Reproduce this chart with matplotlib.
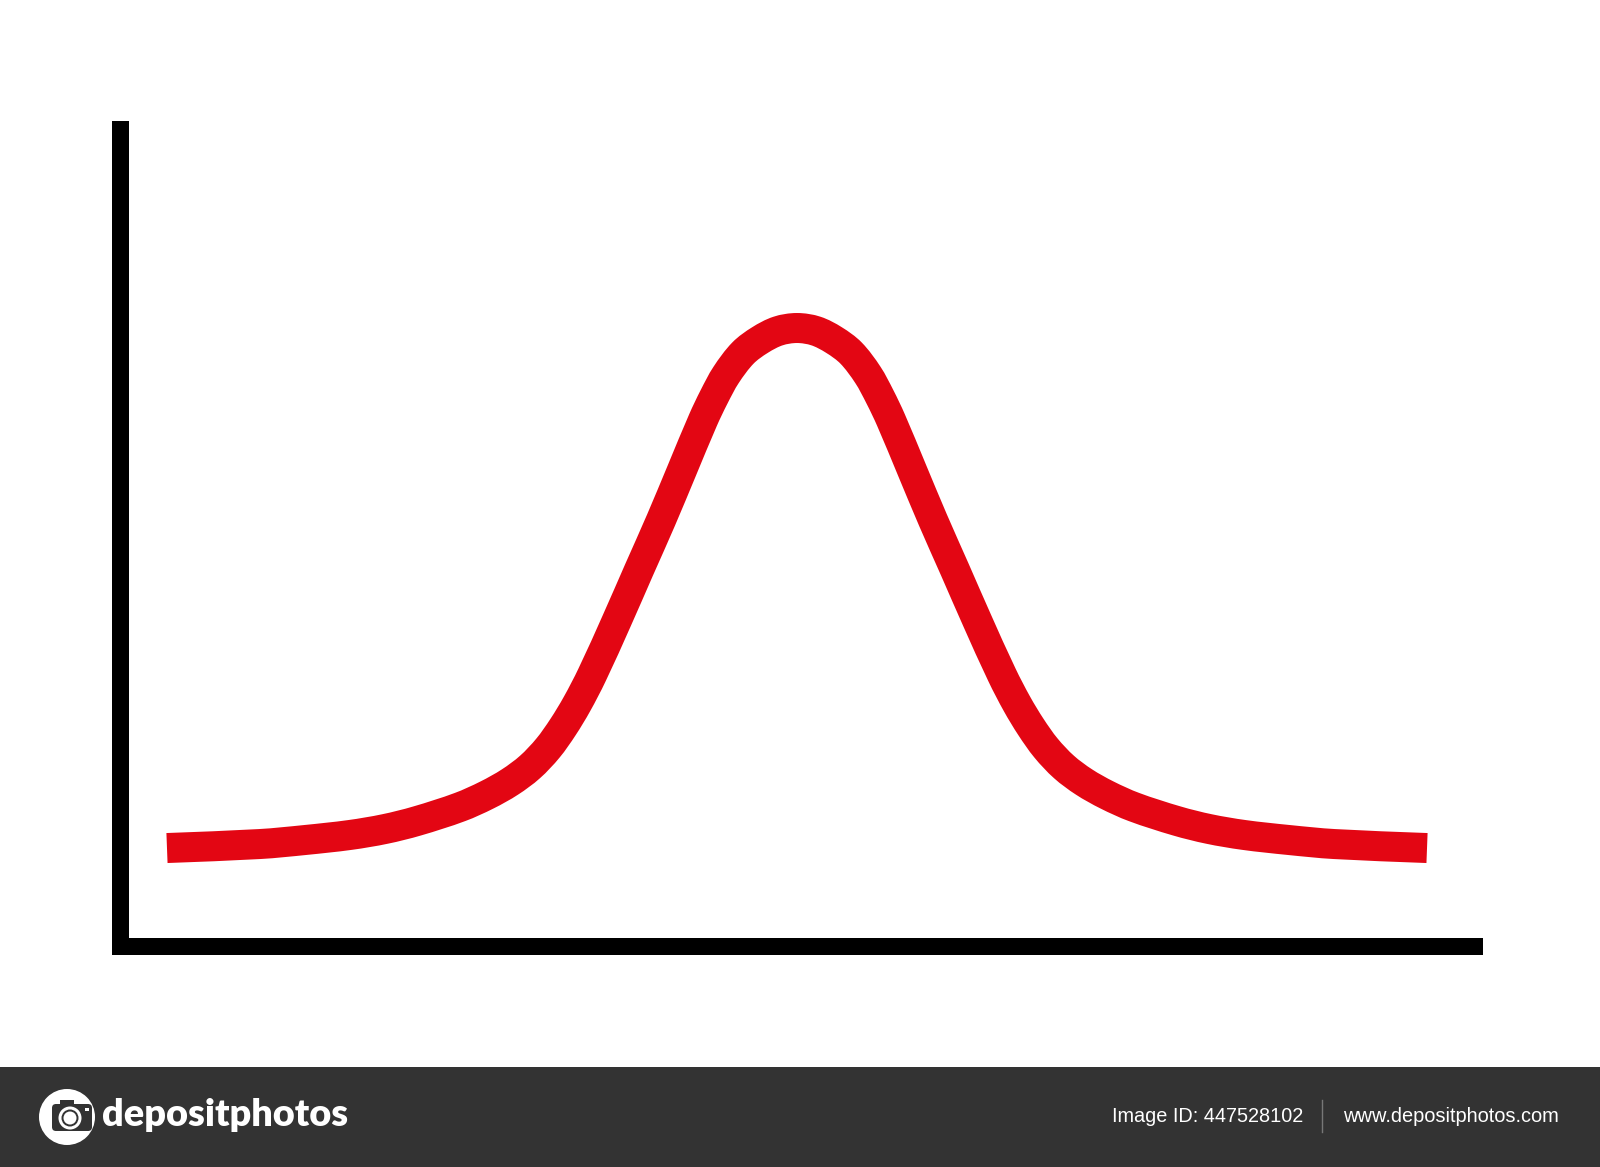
import matplotlib
matplotlib.use("Agg")
import math
import matplotlib.pyplot as plt
from matplotlib.patches import Rectangle, Circle, FancyBboxPatch, PathPatch
from matplotlib.path import Path

# ---- data (x and y in 0..100 chart units) ----
x_left = [3.47, 10.34, 13.66, 16.99, 19.57, 21.94, 25.11, 27.10, 28.80, 30.28,
          31.61, 32.72, 33.75, 34.86, 36.71, 38.33, 39.96, 41.51, 43.06, 43.87,
          44.76, 46.01, 47.27, 48.60, 50.00]
y_left = [11.93, 12.42, 12.91, 13.53, 14.26, 15.24, 16.95, 18.42, 20.01, 21.85,
          24.17, 26.74, 29.56, 33.11, 39.84, 45.96, 52.08, 58.20, 64.32, 67.14,
          69.83, 72.52, 74.11, 75.21, 75.58]
x_right = [51.40, 52.73, 53.99, 55.24, 56.13, 56.94, 58.49, 60.04, 61.67, 63.29,
           65.14, 66.25, 67.28, 68.39, 69.72, 71.20, 72.90, 74.89, 78.06, 80.43,
           83.01, 86.34, 89.66, 96.53]
y_right = [75.21, 74.11, 72.52, 69.83, 67.14, 64.32, 58.20, 52.08, 45.96, 39.84,
           33.11, 29.56, 26.74, 24.17, 21.85, 20.01, 18.42, 16.95, 15.24, 14.26,
           13.53, 12.91, 12.42, 11.93]
curve_x = x_left + x_right
curve_y = y_left + y_right

image_id_text = "Image ID: 447528102"
site_text = "www.depositphotos.com"
brand_text = "depositphotos"

W, H = 1600, 1167
AX_W_PX, AX_H_PX = 1354, 817
fig = plt.figure(figsize=(W / 100, H / 100), dpi=100)
fig.patch.set_facecolor("white")

# ---- main chart ----
ax = fig.add_axes([120 / W, 221.5 / H, AX_W_PX / W, AX_H_PX / H])
ax.set_xlim(0, 100)
ax.set_ylim(0, 100)
ax.set_xticks([])
ax.set_yticks([])
for s in ("top", "right"):
    ax.spines[s].set_visible(False)
for s in ("left", "bottom"):
    ax.spines[s].set_linewidth(17 * 72 / 100)
    ax.spines[s].set_color("black")
    ax.spines[s].set_capstyle("projecting")


def smooth_path(xs, ys, sx, sy):
    """Smooth line through the read points (chord-length Catmull-Rom as Bezier)."""
    P = [(x * sx, y * sy) for x, y in zip(xs, ys)]
    n = len(P)
    t = [0.0]
    for i in range(1, n):
        t.append(t[-1] + math.hypot(P[i][0] - P[i - 1][0], P[i][1] - P[i - 1][1]))
    m = []
    for i in range(n):
        a = max(i - 1, 0)
        b = min(i + 1, n - 1)
        dt = t[b] - t[a]
        m.append(((P[b][0] - P[a][0]) / dt, (P[b][1] - P[a][1]) / dt))
    verts = [P[0]]
    codes = [Path.MOVETO]
    for i in range(n - 1):
        h = (t[i + 1] - t[i]) / 3
        c1 = (P[i][0] + m[i][0] * h, P[i][1] + m[i][1] * h)
        c2 = (P[i + 1][0] - m[i + 1][0] * h, P[i + 1][1] - m[i + 1][1] * h)
        verts += [c1, c2, P[i + 1]]
        codes += [Path.CURVE4] * 3
    verts = [(vx / sx, vy / sy) for vx, vy in verts]
    return Path(verts, codes)


ax.add_patch(PathPatch(smooth_path(curve_x, curve_y, AX_W_PX / 100, AX_H_PX / 100),
                       fill=False, edgecolor="#E30613", lw=30 * 72 / 100,
                       capstyle="butt", joinstyle="round", clip_on=False))

# ---- footer band (pixel coordinates) ----
fa = fig.add_axes([0, 0, 1, 1], zorder=-1)
fa.set_xlim(0, W)
fa.set_ylim(H, 0)
fa.axis("off")
fa.add_patch(Rectangle((0, 1067), W, 100, color="#333333", lw=0))

# camera logo
fa.add_patch(Circle((67, 1117), 28, color="white", lw=0))
fa.add_patch(FancyBboxPatch((52, 1104), 40, 27, boxstyle="round,pad=0,rounding_size=4",
                            color="#333333", lw=0))
fa.add_patch(Rectangle((60, 1100), 14, 6, color="#333333", lw=0))
fa.add_patch(Circle((70, 1118), 11.5, color="white", lw=0))
fa.add_patch(Circle((70, 1118), 8.5, color="#333333", lw=0))
fa.add_patch(Circle((70, 1118), 6.5, color="white", lw=0))
fa.add_patch(Rectangle((85, 1108), 4, 3, color="white", lw=0))

renderer = fig.canvas.get_renderer()


def fit_text(x0, x1, y, s, **kw):
    t = fa.text(x0, y, s, ha="left", va="center", **kw)
    bb = t.get_window_extent(renderer=renderer)
    t.set_fontsize(t.get_fontsize() * (x1 - x0) / bb.width)
    return t


fit_text(102, 348, 1115, brand_text, color="white", fontsize=30,
         family="Lato", fontweight="heavy")
fit_text(1112, 1303, 1117, image_id_text, color="white", fontsize=15,
         family="Liberation Sans")
fa.plot([1322, 1322], [1100, 1132], color="#777777", lw=1)
fit_text(1343, 1560, 1117, site_text, color="white", fontsize=15,
         family="Liberation Sans")

fig.savefig("out.png", dpi=100)
